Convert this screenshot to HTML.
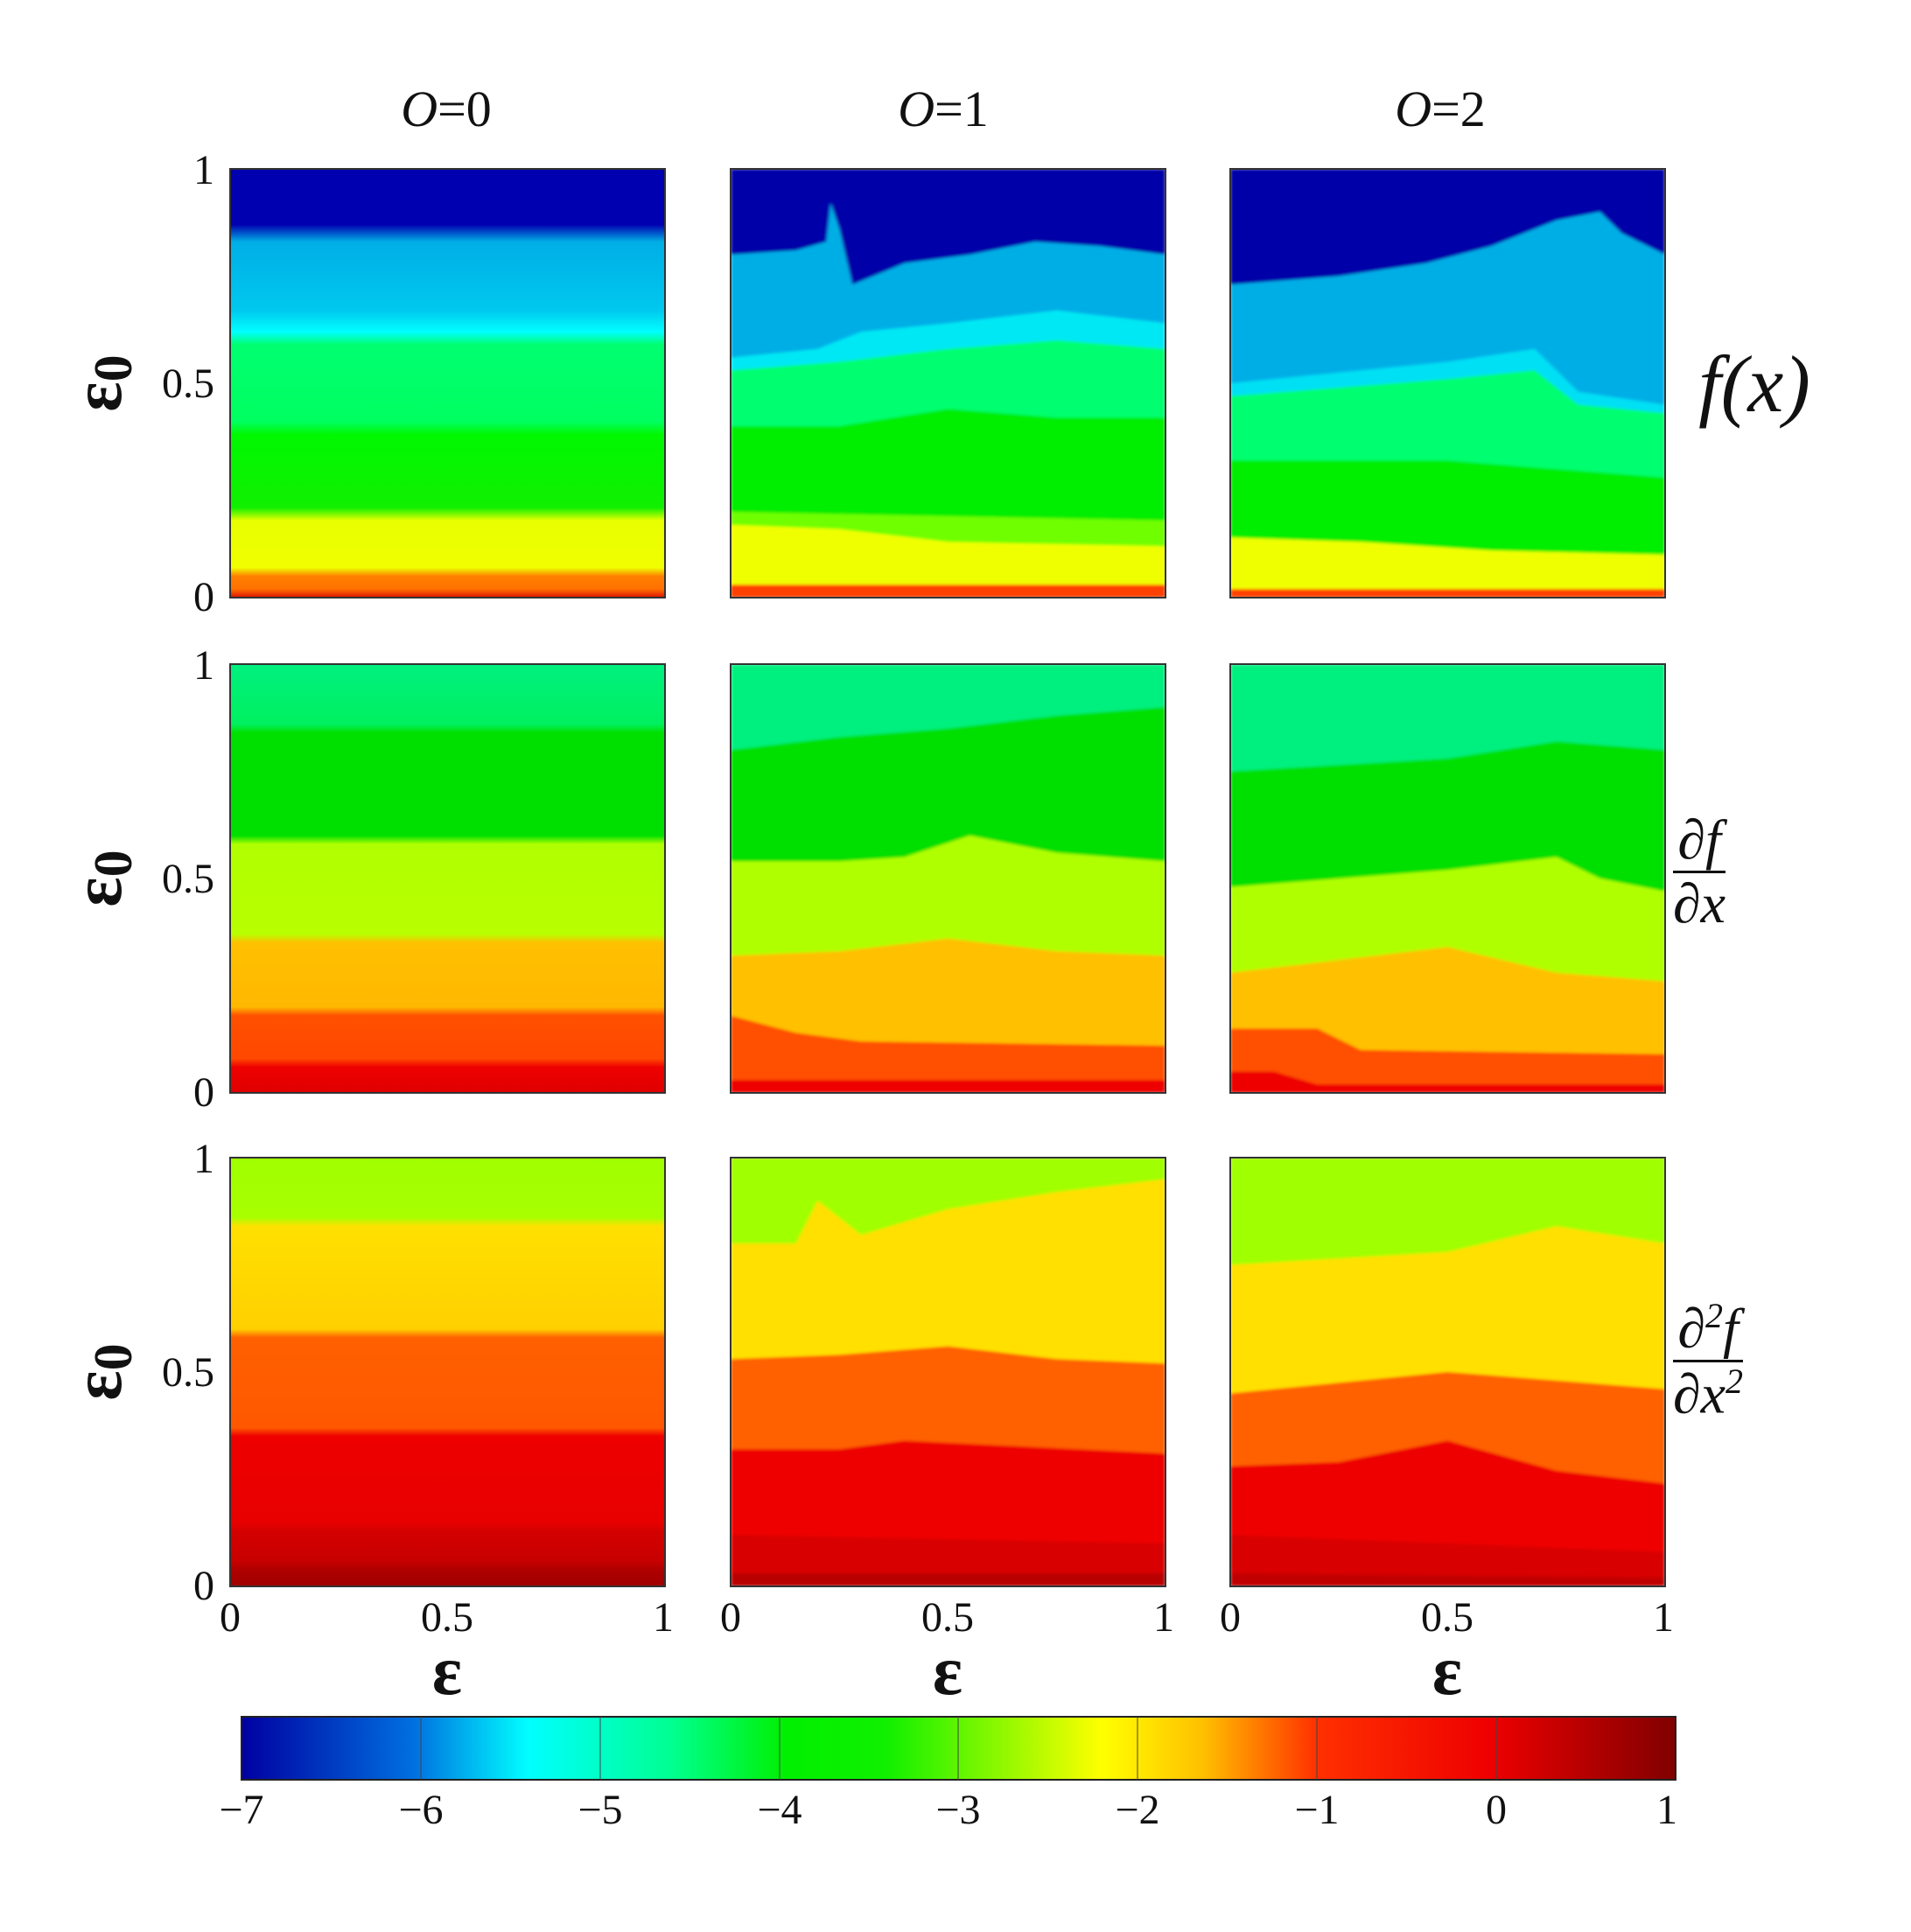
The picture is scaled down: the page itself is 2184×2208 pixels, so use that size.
<!DOCTYPE html>
<html><head><meta charset="utf-8">
<style>
body{margin:0;background:#fff;width:2184px;height:2208px;position:relative;overflow:hidden;font-family:"Liberation Serif",serif;}
.frac{position:absolute;font-style:italic;font-size:64px;text-align:center;line-height:1.1;color:#111;}
.frac .n{border-bottom:3px solid #111;padding:0 4px;}
</style></head><body>
<svg width="2184" height="2208" style="position:absolute;left:0;top:0">
<defs>
<filter id="b" x="0" y="0" width="1" height="1"><feGaussianBlur stdDeviation="0.35"/></filter>
<linearGradient id="cb" x1="0" x2="1" y1="0" y2="0">
<stop offset="0" stop-color="#0000a0"/><stop offset="0.12" stop-color="#0070e0"/>
<stop offset="0.2" stop-color="#00ffff"/><stop offset="0.3" stop-color="#00ff90"/>
<stop offset="0.38" stop-color="#00f000"/><stop offset="0.45" stop-color="#10f000"/>
<stop offset="0.6" stop-color="#ffff00"/><stop offset="0.67" stop-color="#ffc000"/>
<stop offset="0.75" stop-color="#ff3000"/><stop offset="0.87" stop-color="#ee0000"/>
<stop offset="1" stop-color="#800000"/></linearGradient>
</defs>

<!-- Row1 O=0 -->
<svg x="263" y="193" width="497" height="490" viewBox="0 0 100 100" preserveAspectRatio="none">
<linearGradient id="r1" x1="0" x2="0" y1="0" y2="1">
<stop offset="0" stop-color="#0000b0"/><stop offset="0.13" stop-color="#0000b0"/><stop offset="0.17" stop-color="#00aee6"/>
<stop offset="0.33" stop-color="#00c8ee"/><stop offset="0.38" stop-color="#00ffff"/><stop offset="0.41" stop-color="#00ff70"/>
<stop offset="0.59" stop-color="#00ff60"/><stop offset="0.62" stop-color="#00f800"/><stop offset="0.79" stop-color="#10f000"/>
<stop offset="0.82" stop-color="#e8ff00"/><stop offset="0.93" stop-color="#f0ff00"/><stop offset="0.95" stop-color="#ff8000"/>
<stop offset="0.98" stop-color="#ff7000"/><stop offset="1" stop-color="#dd1000"/></linearGradient>
<rect width="100" height="100" fill="url(#r1)"/></svg>
<!-- Row2 O=0 -->
<svg x="263" y="759" width="497" height="490" viewBox="0 0 100 100" preserveAspectRatio="none">
<linearGradient id="r2" x1="0" x2="0" y1="0" y2="1">
<stop offset="0" stop-color="#00f080"/><stop offset="0.14" stop-color="#00f060"/><stop offset="0.16" stop-color="#00e000"/>
<stop offset="0.4" stop-color="#00e000"/><stop offset="0.42" stop-color="#b0ff00"/><stop offset="0.63" stop-color="#b8ff00"/>
<stop offset="0.65" stop-color="#ffc000"/><stop offset="0.8" stop-color="#ffb800"/><stop offset="0.82" stop-color="#ff5000"/>
<stop offset="0.92" stop-color="#ff4800"/><stop offset="0.94" stop-color="#ee0000"/><stop offset="1" stop-color="#e00000"/></linearGradient>
<rect width="100" height="100" fill="url(#r2)"/></svg>
<!-- Row3 O=0 -->
<svg x="263" y="1323" width="497" height="490" viewBox="0 0 100 100" preserveAspectRatio="none">
<linearGradient id="r3" x1="0" x2="0" y1="0" y2="1">
<stop offset="0" stop-color="#a0ff00"/><stop offset="0.14" stop-color="#a8ff00"/><stop offset="0.16" stop-color="#ffe000"/>
<stop offset="0.4" stop-color="#ffd000"/><stop offset="0.42" stop-color="#ff6000"/><stop offset="0.63" stop-color="#ff5800"/>
<stop offset="0.65" stop-color="#ee0000"/><stop offset="0.85" stop-color="#e80000"/><stop offset="0.87" stop-color="#d40000"/>
<stop offset="0.94" stop-color="#c80000"/><stop offset="0.96" stop-color="#b00000"/><stop offset="1" stop-color="#a00000"/></linearGradient>
<rect width="100" height="100" fill="url(#r3)"/></svg>

<!-- Row1 O=1 -->
<svg x="835" y="193" width="497" height="490" viewBox="0 0 100 100" preserveAspectRatio="none"><g filter="url(#b)">
<rect width="100" height="100" fill="#0000a8"/>
<polygon fill="#00aee6" points="0,20 15,19 22,17 23,8 25,14 28,27 40,22 55,20 70,17 85,18 100,20 100,100 0,100"/>
<polygon fill="#00e8f4" points="0,44 20,42 30,38 50,36 75,33 100,36 100,100 0,100"/>
<polygon fill="#00ff70" points="0,47 25,45 50,42 75,40 100,42 100,100 0,100"/>
<polygon fill="#00ee00" points="0,60 25,60 50,56 75,58 100,58 100,100 0,100"/>
<polygon fill="#70ff00" points="0,80 100,82 100,100 0,100"/>
<polygon fill="#f0ff00" points="0,83 25,84 50,87 100,88 100,100 0,100"/>
<polygon fill="#ff4000" points="0,97 100,97 100,100 0,100"/></g></svg>
<!-- Row1 O=2 -->
<svg x="1406" y="193" width="497" height="490" viewBox="0 0 100 100" preserveAspectRatio="none"><g filter="url(#b)">
<rect width="100" height="100" fill="#0000a8"/>
<polygon fill="#00aee6" points="0,27 25,25 45,22 60,18 75,12 85,10 90,15 100,20 100,100 0,100"/>
<polygon fill="#00e0f4" points="0,50 50,45 70,42 80,52 100,55 100,100 0,100"/>
<polygon fill="#00ff70" points="0,53 50,49 70,47 80,55 100,57 100,100 0,100"/>
<polygon fill="#00ee00" points="0,68 50,68 100,72 100,100 0,100"/>
<polygon fill="#f0ff00" points="0,86 30,87 60,89 100,90 100,100 0,100"/>
<polygon fill="#ff4000" points="0,98 100,98 100,100 0,100"/></g></svg>
<!-- Row2 O=1 -->
<svg x="835" y="759" width="497" height="490" viewBox="0 0 100 100" preserveAspectRatio="none"><g filter="url(#b)">
<rect width="100" height="100" fill="#00f080"/>
<polygon fill="#00e000" points="0,20 25,17 50,15 75,12 100,10 100,100 0,100"/>
<polygon fill="#b0ff00" points="0,46 25,46 40,45 55,40 75,44 100,46 100,100 0,100"/>
<polygon fill="#ffc000" points="0,68 25,67 50,64 75,67 100,68 100,100 0,100"/>
<polygon fill="#ff5000" points="0,82 15,86 30,88 100,89 100,100 0,100"/>
<polygon fill="#ee0000" points="0,97 100,97 100,100 0,100"/></g></svg>
<!-- Row2 O=2 -->
<svg x="1406" y="759" width="497" height="490" viewBox="0 0 100 100" preserveAspectRatio="none"><g filter="url(#b)">
<rect width="100" height="100" fill="#00f080"/>
<polygon fill="#00e000" points="0,25 50,22 75,18 100,20 100,100 0,100"/>
<polygon fill="#b0ff00" points="0,52 50,48 75,45 85,50 100,53 100,100 0,100"/>
<polygon fill="#ffc000" points="0,72 50,66 75,72 100,74 100,100 0,100"/>
<polygon fill="#ff5000" points="0,85 20,85 30,90 100,91 100,100 0,100"/>
<polygon fill="#ee0000" points="0,95 10,95 20,98 100,98 100,100 0,100"/></g></svg>
<!-- Row3 O=1 -->
<svg x="835" y="1323" width="497" height="490" viewBox="0 0 100 100" preserveAspectRatio="none"><g filter="url(#b)">
<rect width="100" height="100" fill="#a0ff00"/>
<polygon fill="#ffe000" points="0,20 15,20 20,10 30,18 50,12 75,8 100,5 100,100 0,100"/>
<polygon fill="#ff6000" points="0,47 25,46 50,44 75,47 100,48 100,100 0,100"/>
<polygon fill="#ee0000" points="0,68 25,68 40,66 100,69 100,100 0,100"/>
<polygon fill="#d80000" points="0,88 100,90 100,100 0,100"/>
<polygon fill="#b80000" points="0,97 100,97 100,100 0,100"/></g></svg>
<!-- Row3 O=2 -->
<svg x="1406" y="1323" width="497" height="490" viewBox="0 0 100 100" preserveAspectRatio="none"><g filter="url(#b)">
<rect width="100" height="100" fill="#a0ff00"/>
<polygon fill="#ffe000" points="0,25 50,22 75,16 100,20 100,100 0,100"/>
<polygon fill="#ff6000" points="0,55 50,50 75,52 100,54 100,100 0,100"/>
<polygon fill="#ee0000" points="0,72 25,71 50,66 75,73 100,76 100,100 0,100"/>
<polygon fill="#d80000" points="0,88 100,92 100,100 0,100"/>
<polygon fill="#c00000" points="0,97 100,98 100,100 0,100"/></g></svg>

<!-- frames -->
<g fill="none" stroke="#333" stroke-width="2">
<rect x="263" y="193" width="497" height="490"/><rect x="835" y="193" width="497" height="490"/><rect x="1406" y="193" width="497" height="490"/>
<rect x="263" y="759" width="497" height="490"/><rect x="835" y="759" width="497" height="490"/><rect x="1406" y="759" width="497" height="490"/>
<rect x="263" y="1323" width="497" height="490"/><rect x="835" y="1323" width="497" height="490"/><rect x="1406" y="1323" width="497" height="490"/>
</g>
<!-- colorbar -->
<rect x="276" y="1962" width="1639" height="72" fill="url(#cb)"/>
<rect x="276" y="1962" width="1639" height="72" fill="none" stroke="#222" stroke-width="2"/>
<g stroke="#444" stroke-width="1">
<line x1="481" y1="1962" x2="481" y2="2034"/><line x1="686" y1="1962" x2="686" y2="2034"/><line x1="891" y1="1962" x2="891" y2="2034"/>
<line x1="1095" y1="1962" x2="1095" y2="2034"/><line x1="1300" y1="1962" x2="1300" y2="2034"/><line x1="1505" y1="1962" x2="1505" y2="2034"/>
<line x1="1710" y1="1962" x2="1710" y2="2034"/></g>
<g font-family="Liberation Serif, serif" font-size="48" text-anchor="middle" fill="#111">
<text x="276" y="2084">−7</text><text x="481" y="2084">−6</text><text x="686" y="2084">−5</text><text x="891" y="2084">−4</text>
<text x="1095" y="2084">−3</text><text x="1300" y="2084">−2</text><text x="1505" y="2084">−1</text><text x="1710" y="2084">0</text><text x="1905" y="2084">1</text>
</g>
<!-- y ticks -->
<g font-family="Liberation Serif, serif" font-size="48" text-anchor="end" fill="#111">
<text x="245" y="210">1</text><text x="245" y="454">0.5</text><text x="245" y="698">0</text>
<text x="245" y="776">1</text><text x="245" y="1020">0.5</text><text x="245" y="1264">0</text>
<text x="245" y="1340">1</text><text x="245" y="1584">0.5</text><text x="245" y="1828">0</text>
</g>
<g font-family="Liberation Serif, serif" font-size="48" text-anchor="middle" fill="#111">
<text x="263" y="1864">0</text><text x="511" y="1864">0.5</text><text x="758" y="1864">1</text>
<text x="835" y="1864">0</text><text x="1083" y="1864">0.5</text><text x="1330" y="1864">1</text>
<text x="1406" y="1864">0</text><text x="1654" y="1864">0.5</text><text x="1901" y="1864">1</text>
</g>
<g font-family="Liberation Serif, serif" font-size="80" font-weight="bold" text-anchor="middle" fill="#111">
<text x="511" y="1936">ε</text><text x="1083" y="1936">ε</text><text x="1654" y="1936">ε</text>
<text transform="translate(138,438) rotate(-90)">ε<tspan font-size="62" dy="12">0</tspan></text>
<text transform="translate(138,1004) rotate(-90)">ε<tspan font-size="62" dy="12">0</tspan></text>
<text transform="translate(138,1568) rotate(-90)">ε<tspan font-size="62" dy="12">0</tspan></text>
</g>
<g font-family="Liberation Serif, serif" font-size="58" text-anchor="middle" fill="#111">
<text x="510" y="144"><tspan font-style="italic">O</tspan>=0</text>
<text x="1078" y="144"><tspan font-style="italic">O</tspan>=1</text>
<text x="1646" y="144"><tspan font-style="italic">O</tspan>=2</text>
<text x="2005" y="470" font-size="92" font-style="italic">f(x)</text>
</g>
</svg>
<div class="frac" style="left:1912px;top:925px;"><div class="n">∂f</div><div>∂x</div></div>
<div class="frac" style="left:1912px;top:1482px;"><div class="n">∂<sup style="font-size:40px">2</sup>f</div><div>∂x<sup style="font-size:40px">2</sup></div></div>
</body></html>
